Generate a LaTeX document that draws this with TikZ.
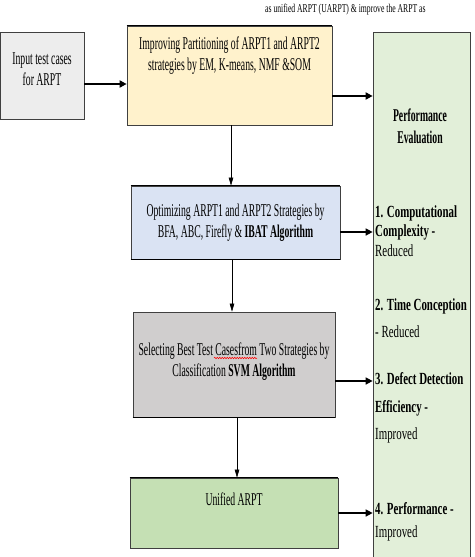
\documentclass[tikz,border=0pt]{standalone}
\usepackage{fontspec}
\setmainfont{Liberation Serif}
\newfontfamily\boxfont{Liberation Serif}[FakeStretch=0.54]
\newfontfamily\perffont{Liberation Serif}[FakeStretch=0.64]
\usetikzlibrary{arrows.meta,positioning,decorations.pathmorphing}
\definecolor{inputfill}{HTML}{EDEDED}
\definecolor{improvefill}{HTML}{FFF2CC}
\definecolor{optimizefill}{HTML}{DAE3F3}
\definecolor{selectfill}{HTML}{D0CECE}
\definecolor{unifiedfill}{HTML}{C5E0B4}
\definecolor{perffill}{HTML}{E2EFD9}
\tikzset{
  box/.style={draw=black!75, line width=0.7pt, inner sep=0pt},
  boxtext/.style={font=\boxfont\fontsize{18}{21}\selectfont, align=center, inner sep=0pt},
  perftext/.style={font=\perffont\fontsize{17}{#1}\selectfont, align=left, inner sep=0pt, anchor=west},
  flow/.style={-{Triangle[length=7pt,width=7pt]}, line width=2pt},
  link/.style={-{Triangle[length=8pt,width=4.5pt]}, line width=0.6pt},
  squiggle/.style={red, line width=0.5pt, decorate, decoration={snake, amplitude=0.8pt, segment length=2.5pt}}
}
\begin{document}
\begin{tikzpicture}[x=1pt,y=-1pt]
\useasboundingbox (0,0) rectangle (474,557);
\clip (0,0) rectangle (474,557);
\node[boxtext, font=\perffont\fontsize{12}{14}\selectfont, anchor=west] (note) at (265,10) {as unified ARPT (UARPT) \& improve the ARPT as};
% boxes
\node[box, fill=inputfill, minimum width=84pt, minimum height=87pt] (input) at (42,75.5) {};
\node[box, fill=improvefill, minimum width=205pt, minimum height=99pt] (improve) at (229.5,75.5) {};
\node[box, fill=optimizefill, minimum width=209pt, minimum height=73pt] (optimize) at (235.5,222.5) {};
\node[box, fill=selectfill, minimum width=202pt, minimum height=105pt] (select) at (234,364.5) {};
\node[box, fill=unifiedfill, minimum width=208pt, minimum height=70pt] (unified) at (234,513) {};
\node[box, fill=perffill, minimum width=97pt, minimum height=538pt] (perf) at (421.5,301) {};
\draw[line width=1.6pt] (improve.north west) -- (improve.north east);
\draw[line width=1.6pt] (optimize.north west) -- (optimize.north east);
\draw[line width=1.2pt] (optimize.south west) -- (optimize.south east);
\draw[line width=1.2pt] (select.south west) -- (select.south east);
\draw[line width=1.6pt] (unified.north west) -- (unified.north east);
% texts
\node[boxtext] (inputtext) at ([yshift=6.5pt]input.center) {Input test cases\\for ARPT};
\node[boxtext, below=11pt of improve.north] (improvetext) {Improving Partitioning of ARPT1 and ARPT2\\strategies by EM, K-means, NMF \&SOM};
\node[boxtext] (optimizetext) at (optimize.center) {Optimizing ARPT1 and ARPT2 Strategies by\\BFA, ABC, Firefly \& \textbf{IBAT Algorithm}};
\node[boxtext] (selecttext) at ([yshift=3pt]select.center) {Selecting Best Test Casesfrom Two Strategies by\\Classification \textbf{SVM Algorithm}};
\draw[squiggle] (214,358) -- (257,358);
\node[boxtext, below=15pt of unified.north] (unifiedtext) {Unified ARPT};
\node[boxtext, font=\boxfont\bfseries\fontsize{18}{22}\selectfont] (perftitle) at (420,126) {Performance\\Evaluation};
\node[perftext=19.5] (item1) at (375,231) {\textbf{1. Computational}\\\textbf{Complexity -}\\Reduced};
\node[perftext=27] (item2) at (375,318.5) {\textbf{2. Time Conception}\\- Reduced};
\node[perftext=27.5] (item3) at (375,408) {\textbf{3. Defect Detection}\\\textbf{Efficiency -}\\Improved};
\node[perftext=23] (item4) at (375,521.5) {\textbf{4. Performance -}\\Improved};
% arrows
\draw[flow] (input.east |- 0,84) -- (improve.west |- 0,84);
\draw[flow, line width=2.6pt] (improve.east |- 0,96) -- (perf.west |- 0,96);
\draw[link] (improve.south -| 231,0) -- (optimize.north -| 231,0);
\draw[flow, line width=1.4pt] (optimize.east |- 0,232) -- (perf.west |- 0,232);
\draw[link] (optimize.south -| 232,0) -- (select.north -| 232,0);
\draw[flow, line width=1.4pt] (select.east |- 0,381) -- (perf.west |- 0,381);
\draw[link] (select.south -| 237,0) -- (unified.north -| 237,0);
\draw[flow, line width=1.4pt] (unified.east |- 0,513) -- (perf.west |- 0,513);
\end{tikzpicture}
\end{document}
